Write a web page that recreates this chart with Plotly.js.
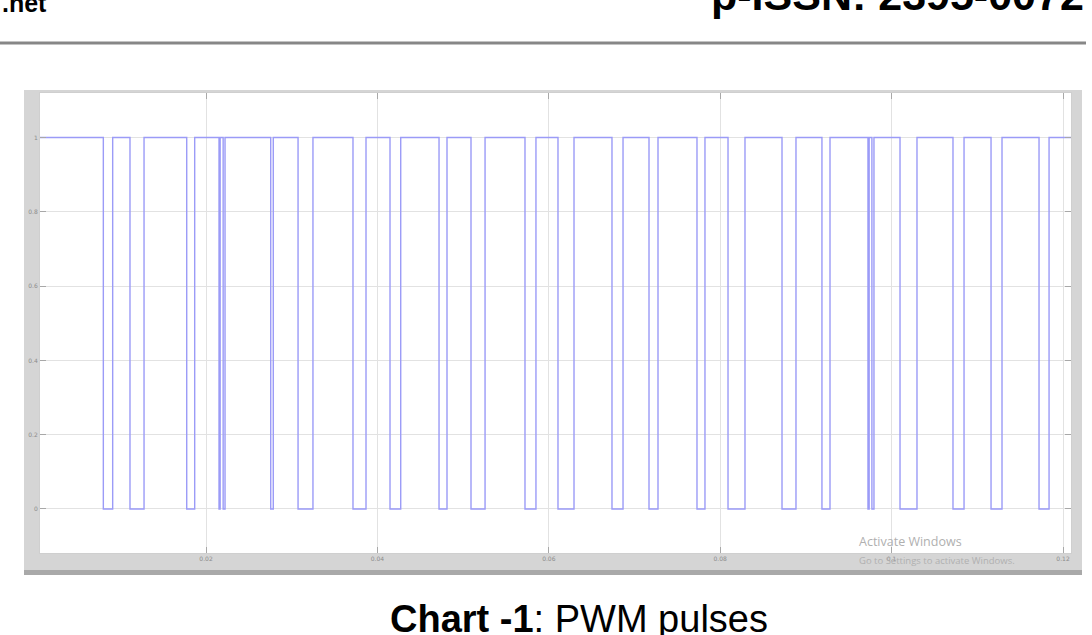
<!DOCTYPE html>
<html>
<head>
<meta charset="utf-8">
<script src="https://cdn.plot.ly/plotly-3.0.1.min.js"></script>
<style>
html,body{margin:0;padding:0;background:#fff;}
#chart{width:1092px;height:635px;}
</style>
</head>
<body>
<div id="chart"></div>
<script>
// PWM signal: times (s) where the output falls to 0 and rises back to 1
var pulseFall = [0.00802, 0.01113, 0.01775, 0.02152, 0.02200, 0.02755, 0.03074, 0.03715, 0.04147,
                 0.04719, 0.05092, 0.05722, 0.06107, 0.06737, 0.07169, 0.07729, 0.08091, 0.08721, 0.09187,
                 0.09724, 0.09770, 0.10098, 0.10716, 0.11160, 0.11720];
var pulseRise = [0.00911, 0.01277, 0.01868, 0.02165, 0.02222, 0.02785, 0.03248, 0.03867, 0.04272,
                 0.04812, 0.05256, 0.05850, 0.06294, 0.06866, 0.07274, 0.07822, 0.08289, 0.08884, 0.09281,
                 0.09738, 0.09794, 0.10296, 0.10845, 0.11288, 0.11837];
var highLevel = 1;
var lowLevel = 0;
var tStart = 0;
var tEnd = 0.1215;
var xTickVals = [0.02, 0.04, 0.06, 0.08, 0.1, 0.12];
var xTickText = ['0.02', '0.04', '0.06', '0.08', '0.1', '0.12'];
var yTickVals = [0, 0.2, 0.4, 0.6, 0.8, 1];
var yTickText = ['0', '0.2', '0.4', '0.6', '0.8', '1'];

// build step waveform
var tx = [tStart], ty = [highLevel];
for (var i = 0; i < pulseFall.length; i++) {
  tx.push(pulseFall[i]); ty.push(lowLevel);
  tx.push(pulseRise[i]); ty.push(highLevel);
}
tx.push(tEnd); ty.push(highLevel);

// plot area in page pixels
var PL = 40, PR = 1071, PT = 93, PB = 553;
function px(x) { return (x - PL) / (PR - PL); }
function py(y) { return (PB - y) / (PB - PT); }

var trace = {
  x: tx, y: ty, type: 'scatter', mode: 'lines',
  line: {shape: 'hv', color: 'rgb(155,155,247)', width: 1.4},
  hoverinfo: 'skip'
};

var axisCommon = {
  showgrid: true, gridcolor: '#e2e2e2', gridwidth: 1,
  zeroline: false, showline: true, linecolor: '#cfcfcf', linewidth: 1, mirror: 'ticks',
  ticks: 'inside', ticklen: 6, tickcolor: '#a8a8a8', tickwidth: 1,
  tickfont: {family: 'DejaVu Sans, sans-serif', size: 6, color: '#8c8c8c'}
};

var layout = {
  width: 1092, height: 635,
  margin: {l: PL, r: 1092 - PR, t: PT, b: 635 - PB, pad: 0},
  paper_bgcolor: '#ffffff', plot_bgcolor: '#ffffff',
  showlegend: false,
  xaxis: Object.assign({}, axisCommon, {
    range: [0.00063, 0.12093], tickvals: xTickVals, ticktext: xTickText, tickangle: 0
  }),
  yaxis: Object.assign({}, axisCommon, {
    range: [-0.1185, 1.12], tickvals: yTickVals, ticktext: yTickText
  }),
  shapes: [
    // scope grey frame
    {type: 'rect', xref: 'paper', yref: 'paper', layer: 'below',
     x0: px(24), x1: px(1082), y0: py(573), y1: py(90),
     fillcolor: '#d5d5d5', line: {width: 0}},
    {type: 'rect', xref: 'paper', yref: 'paper', layer: 'below',
     x0: px(24), x1: px(1082), y0: py(575), y1: py(570),
     fillcolor: '#a9a9a9', line: {width: 0}},
    {type: 'rect', xref: 'paper', yref: 'paper', layer: 'below',
     x0: 0, x1: 1, y0: 0, y1: 1,
     fillcolor: '#ffffff', line: {width: 0}},
    // page header rule
    {type: 'line', xref: 'paper', yref: 'paper',
     x0: px(0), x1: px(1086), y0: py(43), y1: py(43),
     line: {color: '#878787', width: 3}}
  ],
  annotations: [
    {xref: 'paper', yref: 'paper', x: px(0), y: py(3), xanchor: 'left', yanchor: 'middle',
     text: '<b>.net</b>', showarrow: false,
     font: {family: 'Liberation Sans, Arial, sans-serif', size: 25, color: '#000'}},
    {xref: 'paper', yref: 'paper', x: px(1086), y: py(-5), xanchor: 'right', yanchor: 'middle',
     text: '<b>p-ISSN: 2395-0072</b>', showarrow: false,
     font: {family: 'Liberation Sans, Arial, sans-serif', size: 43, color: '#000'}},
    {xref: 'paper', yref: 'paper', x: px(388), y: py(619), xanchor: 'left', yanchor: 'middle',
     text: '<b>Chart -1</b>: PWM pulses', showarrow: false,
     font: {family: 'Liberation Sans, Arial, sans-serif', size: 38, color: '#000'}},
    {xref: 'paper', yref: 'paper', x: px(857), y: py(541), xanchor: 'left', yanchor: 'middle',
     text: 'Activate Windows', showarrow: false,
     font: {family: 'Open Sans, sans-serif', size: 12.5, color: '#b0b0b0'}},
    {xref: 'paper', yref: 'paper', x: px(857), y: py(560), xanchor: 'left', yanchor: 'middle',
     text: 'Go to Settings to activate Windows.', showarrow: false,
     font: {family: 'Open Sans, sans-serif', size: 9.5, color: '#b0b0b0'}}
  ]
};

Plotly.newPlot('chart', [trace], layout, {staticPlot: true, displayModeBar: false});
</script>
</body>
</html>
